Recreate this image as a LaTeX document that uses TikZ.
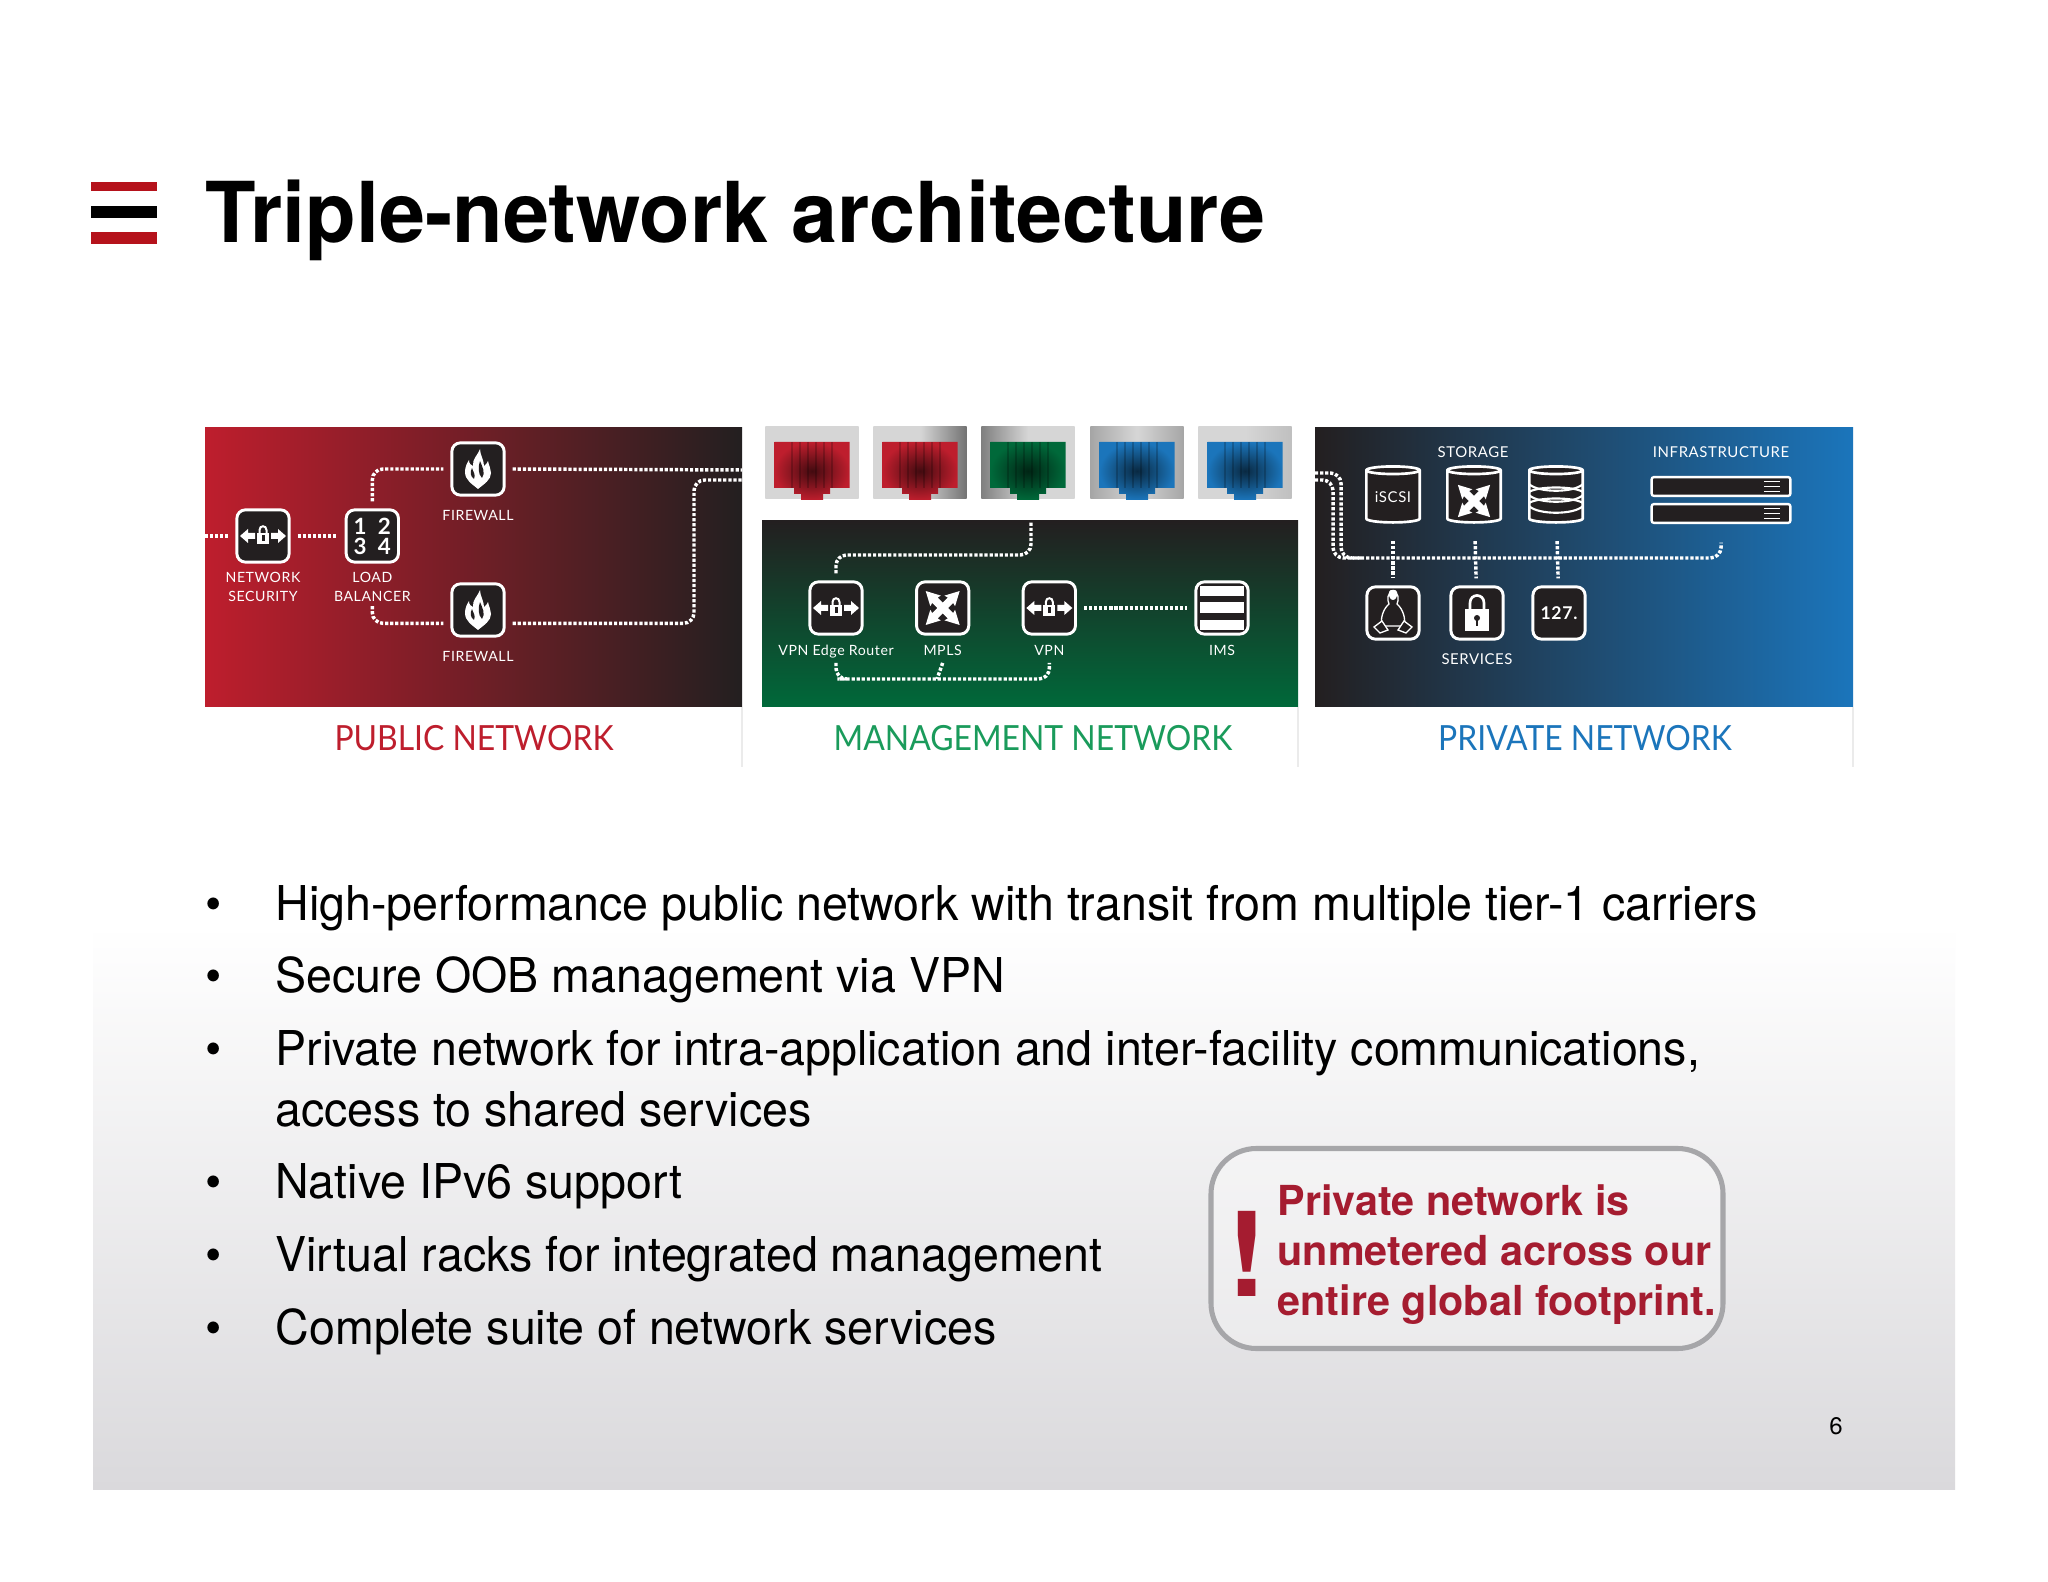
\documentclass[tikz,border=0pt]{standalone}
\usepackage{fontspec}
\setmainfont{TeX Gyre Heros}
\newfontfamily\bodyfont[FakeStretch=.97]{TeX Gyre Heros}
\newfontfamily\titlefont[FakeStretch=.985]{TeX Gyre Heros}
\newfontfamily\netfont[LetterSpace=4]{Lato}
\newfontfamily\capfont[FakeStretch=.92]{Lato}
\usetikzlibrary{positioning,shapes.geometric}

\definecolor{pubred}{HTML}{BE1E2D}
\definecolor{barred}{HTML}{B5121B}
\definecolor{inkdark}{HTML}{231F20}
\definecolor{mgtgreen}{HTML}{00693A}
\definecolor{capgreen}{HTML}{1A9B5B}
\definecolor{prvblue}{HTML}{1B75BB}
\definecolor{slidegrey}{HTML}{DAD9DC}
\definecolor{noteline}{HTML}{A6A6A9}
\definecolor{notered}{HTML}{A51C30}
\definecolor{portgrey}{HTML}{D6D6D6}

\tikzset{
    pics/lockarrows/.style={code={
        \fill[white] (-23,0) -- (-15,-7) -- (-15,-3) -- (-8,-3) -- (-8,3) -- (-15,3) -- (-15,7) -- cycle;
        \fill[white] (23,0) -- (15,-7) -- (15,-3) -- (8,-3) -- (8,3) -- (15,3) -- (15,7) -- cycle;
        \draw[white,line width=.75pt] (-3.5,-3) -- (-3.5,-6) .. controls (-3.5,-11) and (3.5,-11) .. (3.5,-6) -- (3.5,-3);
        \fill[white] (-6,-3) rectangle (6,8);
        \fill[inkdark] (-1.5,-1) rectangle (1.5,5);
    }},
    pics/routecross/.style={code={
        \foreach \a in {45,135,225,315}
            \fill[white,rotate=\a,scale=#1] (-1,-3.8) -- (11,-3.8) -- (10,-7.5) -- (24,0) -- (10,7.5) -- (11,3.8) -- (-1,3.8) -- cycle;
    }},
    pics/flame/.style={code={
        \fill[white] (0,20) .. controls (-6,15) and (-13,11) .. (-13,3) .. controls (-13,-2) and (-11,-6) .. (-9,-9)
            .. controls (-9,-5) and (-7,-4) .. (-5,-3) .. controls (-6,-10) and (0,-14) .. (2,-20)
            .. controls (2,-14) and (6,-9) .. (6,-3) .. controls (8,-4) and (9,-6) .. (10,-8)
            .. controls (11,-3) and (13,0) .. (13,4) .. controls (13,11) and (6,15) .. (0,20) -- cycle;
        \fill[inkdark] (-4,10) .. controls (-8,7) and (-8,3) .. (-6,-1) .. controls (-5,3) and (-2,5) .. (-4,10) -- cycle;
        \fill[inkdark] (4,9) .. controls (0,5) and (0,-2) .. (2,-8) .. controls (4,-3) and (8,4) .. (4,9) -- cycle;
    }},
    pics/tux/.style={code={
        \draw[white,line width=.5pt,fill=inkdark] (0,-21) .. controls (-6,-21) and (-6,-13) .. (-4,-9)
            .. controls (-10,-4) and (-13,6) .. (-11,13) -- (11,13) .. controls (13,6) and (10,-4) .. (4,-9)
            .. controls (6,-13) and (6,-21) .. (0,-21) -- cycle;
        \fill[white] (-4,-21) .. controls (-4,-24) and (4,-24) .. (4,-21) .. controls (5,-16) and (2,-13) .. (0,-13) .. controls (-2,-13) and (-5,-16) .. (-4,-21) -- cycle;
        \draw[white,line width=.5pt,fill=inkdark] (-19,14) -- (-11,8) -- (-5,17) -- (-13,20) -- cycle;
        \draw[white,line width=.5pt,fill=inkdark] (19,14) -- (11,8) -- (5,17) -- (13,20) -- cycle;
    }},
    pics/bigpadlock/.style={code={
        \draw[white,line width=1pt] (-7,-3) -- (-7,-10) .. controls (-7,-20) and (7,-20) .. (7,-10) -- (7,-3);
        \fill[white] (-12,-4) rectangle (12,18);
        \fill[inkdark] (0,5) circle (3);
        \fill[inkdark] (-1.3,5) rectangle (1.3,13);
    }},
    pics/diskstack/.style={code={
        \foreach \y in {-9,2,13}
            \draw[white,line width=.8pt] (-27,\y-4) .. controls (-18,\y+5) and (18,\y+5) .. (27,\y-4);
        \foreach \y in {-5,6}
            \draw[white,line width=.8pt] (-27,\y) .. controls (-18,\y-6) and (18,\y-6) .. (27,\y);
    }},
    pics/stripes/.style={code={
        \foreach \y in {-5,0,5}
            \draw[white,line width=.55pt] (-8,\y) -- (8,\y);
    }},
    pics/jack/.style={code={
        \shade[inner color=#1!35!black,outer color=#1] (-37.5,-21) -- (37.5,-21) -- (37.5,25) -- (18,25) -- (18,31) -- (11,31) -- (11,37) -- (-11,37) -- (-11,31) -- (-18,31) -- (-18,25) -- (-37.5,25) -- cycle;
        \foreach \x in {-20,-12,-4,4,12,20}
            \draw[black,opacity=.2,line width=.5pt] (\x,-21) -- (\x,25);
    }}
}

\begin{document}
\begin{tikzpicture}[
    x = .375pt,
    y = -.375pt,
    iconbox/.style={rectangle, draw=white, fill=inkdark, line width=1.1pt, rounded corners=3.2pt,
        minimum size=19.6pt, inner sep=0pt, outer sep=3.2pt, text=white, font=\netfont\bfseries\fontsize{8.4}{9}\selectfont, align=center},
    disk/.style={cylinder, shape border rotate=90, aspect=.21, draw=white, fill=inkdark, line width=1pt,
        minimum height=21pt, minimum width=20pt, inner sep=0pt, outer sep=1pt, text=white, font=\netfont\fontsize{5.6}{6}\selectfont},
    rackunit/.style={rectangle, draw=white, fill=inkdark, line width=.9pt, rounded corners=.8pt,
        minimum width=52pt, minimum height=7pt, inner sep=0pt},
    iconlabel/.style={text=white, inner sep=1.5pt, align=center, font=\netfont\fontsize{5.3}{7}\selectfont},
    capname/.style={font=\capfont\fontsize{13}{15}\selectfont, inner sep=0pt},
    portbg/.style={rectangle, minimum width=35pt, minimum height=27pt, inner sep=0pt},
    link/.style={draw=white, line width=1.3pt, dash pattern=on 1.2pt off .7pt, rounded corners=4pt},
    bulletline/.style={anchor=base west, inner sep=0pt, font=\bodyfont\fontsize{18}{20}\selectfont}
]
\useasboundingbox (0,0) rectangle (2048,1582);
\fill[white] (0,0) rectangle (2048,1582);

% Slide background
\shade[top color=white, bottom color=slidegrey] (93,925) rectangle (1955,1489);

% Title
\fill[barred] (91,182) rectangle (157,191);
\fill[black] (91,206) rectangle (157,218);
\fill[barred] (91,232) rectangle (157,244);
\node[anchor=base west, inner sep=0pt, font=\titlefont\bfseries\fontsize{31.5}{34}\selectfont] (title) at (205,243) {Triple-network architecture};

% Panels
\shade[left color=pubred, right color=inkdark] (205,428) rectangle (742,707);
\shade[top color=inkdark, bottom color=mgtgreen] (762,521) rectangle (1298,707);
\shade[left color=inkdark, right color=prvblue] (1315,428) rectangle (1853,707);
\foreach \x in {742,1298,1853}
    \draw[black!8, line width=.5pt] (\x,707) -- (\x,767);

% Public network
\coordinate (pubin) at (205,536);
\coordinate (pubouta) at (742,470);
\coordinate (puboutb) at (742,480);
\coordinate (pubbend) at (694,480);
\node[iconbox] (netsec) at (263,536) {};
\node[iconbox, right=15pt of netsec] (lbal) {1\,\,\,2\\[-1.5pt]3\,\,\,4};
\node[iconbox] (fwtop) at (478,469) {};
\node[iconbox] (fwbot) at (478,610) {};
\pic at (netsec) {lockarrows};
\pic at (fwtop) {flame};
\pic at (fwbot) {flame};
\node[iconlabel, below=-1pt of netsec] (netseclbl) {NETWORK\\SECURITY};
\node[iconlabel, below=-1pt of lbal] (lballbl) {LOAD\\BALANCER};
\node[iconlabel, below=.8pt of fwtop] (fwtoplbl) {FIREWALL};
\node[iconlabel, below=.8pt of fwbot] (fwbotlbl) {FIREWALL};
\node[capname, text=pubred] (pubcap) at (474,738) {PUBLIC NETWORK};

\draw[link] (pubin) -- (netsec);
\draw[link] (netsec) -- (lbal);
\draw[link] (lbal.north) |- (fwtop.west);
\draw[link] (lballbl.south) |- ([yshift=-5pt]fwbot.west);
\draw[link] (fwtop.east) -- (pubouta);
\draw[link] ([yshift=-5pt]fwbot.east) -| (pubbend) -- (puboutb);

% Ports
\foreach \x/\tone/\lc/\rc in {812/pubred/portgrey/portgrey,
    920/pubred/portgrey/black!55,
    1028/mgtgreen/black!50/portgrey,
    1137/prvblue/black!35/black!35,
    1245/prvblue/portgrey/black!25} {
    \node[portbg, left color=\lc, right color=\rc, middle color=portgrey] (port\x) at (\x,463) {};
    \pic at (port\x) {jack=\tone};
}

% Management network
\coordinate (mgttop) at (1031,521);
\coordinate (mgtbend) at (1031,555);
\coordinate (mgtjoin) at (937,679);
\coordinate (mgtbus) at (848,679);
\node[iconbox] (edge) at (836,608) {};
\node[iconbox, right=14pt of edge] (mpls) {};
\node[iconbox, right=14pt of mpls] (vpn) {};
\node[iconbox] (ims) at (1222,608) {};
\pic at (edge) {lockarrows};
\pic at (mpls) {routecross=1};
\pic at (vpn) {lockarrows};
\fill[white] (1200,586) rectangle (1244,596);
\fill[white] (1200,602) rectangle (1244,613);
\fill[white] (1200,620) rectangle (1244,630);
\node[iconlabel, below=-1pt of edge, text height=4pt, text depth=1.2pt] (edgelbl) {VPN Edge Router};
\node[iconlabel, below=-1pt of mpls, text height=4pt, text depth=1.2pt] (mplslbl) {MPLS};
\node[iconlabel, below=-1pt of vpn, text height=4pt, text depth=1.2pt] (vpnlbl) {VPN};
\node[iconlabel, below=-1pt of ims, text height=4pt, text depth=1.2pt] (imslbl) {IMS};
\node[capname, text=capgreen] (mgtcap) at (1033,738) {MANAGEMENT NETWORK};

\draw[link] (edge.north) |- (mgtbend) -- (mgttop);
\draw[link] (vpn) -- (ims);
\draw[link] (edgelbl.south) |- (mgtbus) -| (vpnlbl.south);
\draw[link, rounded corners=0pt] (mplslbl.south) -- (mgtjoin);

% Private network
\coordinate (prvina) at (1315,473);
\coordinate (prvinb) at (1315,480);
\coordinate (prvbus) at (1341,558);
\coordinate (prvbusb) at (1333,558);
\coordinate (prvjoin) at (1362,558);
\node[iconlabel, font=\netfont\fontsize{5.6}{7}\selectfont] (storlbl) at (1473,452) {STORAGE};
\node[iconlabel, font=\netfont\fontsize{5.6}{7}\selectfont] (infralbl) at (1721,452) {INFRASTRUCTURE};
\node[disk] (iscsi) at (1393,497) {iSCSI};
\node[disk] (xdisk) at (1474,497) {\phantom{iSCSI}};
\node[disk] (stack) at (1556,497) {\phantom{iSCSI}};
\pic at ([yshift=-1.5pt]xdisk.center) {routecross=.95};
\pic at (stack.center) {diskstack};
\node[rackunit] (rackup) at (1721,486.5) {};
\node[rackunit] (rackdn) at (1721,513.5) {};
\pic at (1772,486.5) {stripes};
\pic at (1772,513.5) {stripes};
\node[iconbox] (linux) at (1393,613) {};
\node[iconbox] (padlock) at (1477,613) {};
\node[iconbox, font=\netfont\bfseries\fontsize{6.6}{8}\selectfont] (loopback) at (1559,613) {127.};
\pic at (linux) {tux};
\pic at (padlock) {bigpadlock};
\node[iconlabel, font=\netfont\fontsize{5.6}{7}\selectfont, below=.5pt of padlock] (svclbl) {SERVICES};
\node[capname, text=prvblue] (prvcap) at (1585,738) {PRIVATE NETWORK};

\draw[link] (prvina) -| (prvbus) -| ([yshift=-7pt]rackdn.south);
\draw[link] (prvinb) -| (prvbusb) -- (prvjoin);
\draw[link, shorten <=6pt] (iscsi) -- (linux);
\draw[link, shorten <=6pt] (xdisk) -- (padlock);
\draw[link, shorten <=6pt] (stack) -- (loopback);

% Bullets
\foreach \yy/\txt [count=\i] in {920/High-performance public network with transit from multiple tier-1 carriers,
    992/Secure OOB management via VPN,
    1065/{Private network for intra-application and inter-facility communications,},
    1198/Native IPv6 support,
    1271/Virtual racks for integrated management,
    1344/Complete suite of network services} {
    \node[bulletline] (dot\i) at (205,\yy) {•};
    \node[bulletline] (item\i) at (275,\yy) {\txt};
}
\node[bulletline] (itemcont) at (275,1126) {access to shared services};

% Note
\node[rectangle, draw=noteline, fill=white, fill opacity=.3, draw opacity=1, line width=1.9pt, rounded corners=17pt,
    minimum width=192pt, minimum height=75pt, inner sep=0pt] (note) at (1467,1248.5) {};
\node[anchor=base, inner sep=0pt, text=notered, font=\bfseries\fontsize{44}{44}\selectfont] (bang) at (1247,1296) {!};
\node[anchor=base west, inner sep=0pt, text=notered, font=\bfseries\fontsize{15.5}{18.6}\selectfont, align=left] (notetxt) at (1277,1315) {Private network is\\unmetered across our\\entire global footprint.};

% Page number
\node[anchor=base, inner sep=0pt, font=\fontsize{9}{11}\selectfont] (pageno) at (1836,1434) {6};
\end{tikzpicture}
\end{document}
